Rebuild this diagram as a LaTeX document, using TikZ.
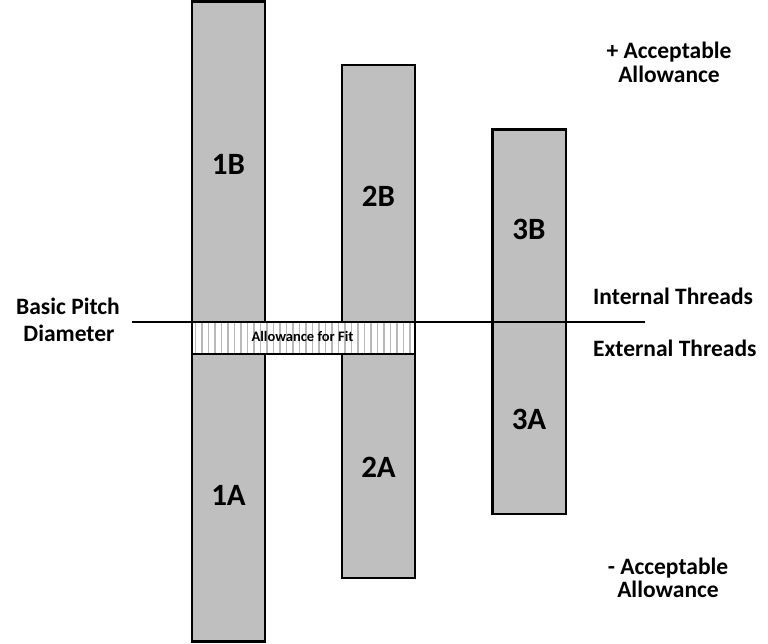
\documentclass[tikz,border=0pt]{standalone}
\usepackage{fontspec}
\setmainfont{Carlito}
\begin{document}
\begin{tikzpicture}[x=1pt,y=-1pt,
  bar/.style={draw=black,line width=2.4pt,fill=black!25},
  lbl/.style={font=\bfseries\fontsize{23.5}{21}\selectfont,inner sep=0pt,anchor=base},
  two/.style={font=\bfseries\fontsize{23.5}{23.5}\selectfont,inner sep=0pt,align=center},
  big/.style={font=\bfseries\fontsize{31}{31}\selectfont,inner sep=0pt},
  small/.style={font=\bfseries\fontsize{14.5}{15}\selectfont,inner sep=0pt,anchor=base}]
\useasboundingbox (0,0) rectangle (768,644);
% bars
\filldraw[bar] (192,1.5) rectangle (265,322);
\filldraw[bar] (192,354) rectangle (265,641.5);
\filldraw[bar] (342,65) rectangle (415,322);
\filldraw[bar] (342,354) rectangle (415,578);
\filldraw[bar] (492.5,129.5) rectangle (566,514);
% allowance band
\fill[white] (192,322) rectangle (415,354);
\foreach \i in {0,...,33} \draw[black!28,line width=1.5pt] ({195.5+\i*6.5},323) -- ({195.5+\i*6.5},353);
\draw[line width=2.4pt] (192,322) rectangle (415,354);
% basic pitch line
\draw[line width=2.4pt] (132,322) -- (645,322);
% labels
\node[big] (b1) at (228.5,164) {1B};
\node[big] (b2) at (378.5,196) {2B};
\node[big] (b3) at (529,229) {3B};
\node[big] (a1) at (228.5,495) {1A};
\node[big] (a2) at (378.5,467) {2A};
\node[big] (a3) at (529,419) {3A};
\node[small] (fit) at (302.5,341.5) {Allowance for Fit};
\node[lbl] (bpd1) at (68,314.3) {Basic Pitch};
\node[lbl] (bpd2) at (69,341) {Diameter};
\node[lbl,anchor=base west] (int) at (593,305) {Internal Threads};
\node[lbl,anchor=base west] (ext) at (593,356.5) {External Threads};
\node[two] (pa) at (669,62.5) {+ Acceptable\\Allowance};
\node[two] (ma) at (668,578) {- Acceptable\\Allowance};
\end{tikzpicture}
\end{document}
